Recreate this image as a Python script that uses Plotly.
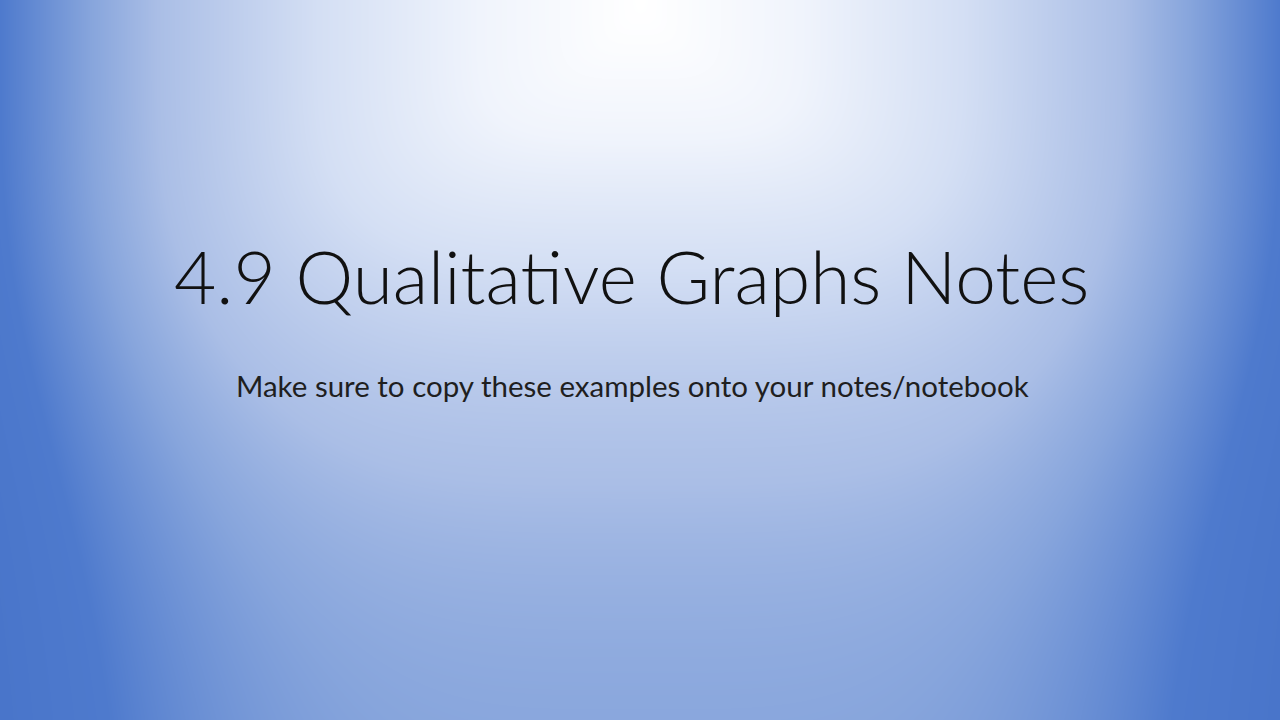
import numpy as np
import plotly.graph_objects as go

# slide texts
title_text = ["4.9 Qualitative Graphs Notes"]
subtitle_text = ["Make sure to copy these examples onto your notes/notebook"]

# background gradient (white at top centre, blue towards the sides)
W, H = 1280, 720
gx = np.linspace(0, W, 161)
gy = np.linspace(0, H, 91)
X, Y = np.meshgrid(gx, gy)
rx = np.abs(X - 640) / 670
ry = 0.84 * (1 - np.exp(-(Y / 300) ** 1.4))
r = (rx ** 4 + ry ** 4) ** 0.25

zmax = 1.2
stops = [
    (0.0, "rgb(255,255,255)"),
    (0.24, "rgb(240,244,252)"),
    (0.48, "rgb(212,223,244)"),
    (0.72, "rgb(170,190,230)"),
    (0.82, "rgb(135,165,220)"),
    (0.955, "rgb(78,122,205)"),
    (1.2, "rgb(66,110,198)"),
]
scale = [[v / zmax, c] for v, c in stops]

fig = go.Figure()
fig.add_trace(go.Heatmap(x=gx, y=gy, z=r, zmin=0, zmax=zmax, colorscale=scale,
                         zsmooth="best", showscale=False, hoverinfo="skip"))

fig.add_annotation(x=0.4935, y=1 - 276 / 720, xref="paper", yref="paper",
                   text=title_text[0], showarrow=False,
                   font=dict(family="Lato", size=73, color="#111111", weight=300))
fig.add_annotation(x=0.494, y=1 - 385 / 720, xref="paper", yref="paper",
                   text=subtitle_text[0], showarrow=False,
                   font=dict(family="Lato", size=29.5, color="#1f1f1f"))

fig.update_xaxes(visible=False, range=[0, W])
fig.update_yaxes(visible=False, range=[H, 0])
fig.update_layout(width=W, height=H, margin=dict(l=0, r=0, t=0, b=0),
                  paper_bgcolor="#7fa0dc", plot_bgcolor="#7fa0dc")
fig.write_html("out.html", config={"displayModeBar": False},
               post_script="document.body.style.margin='0';")
